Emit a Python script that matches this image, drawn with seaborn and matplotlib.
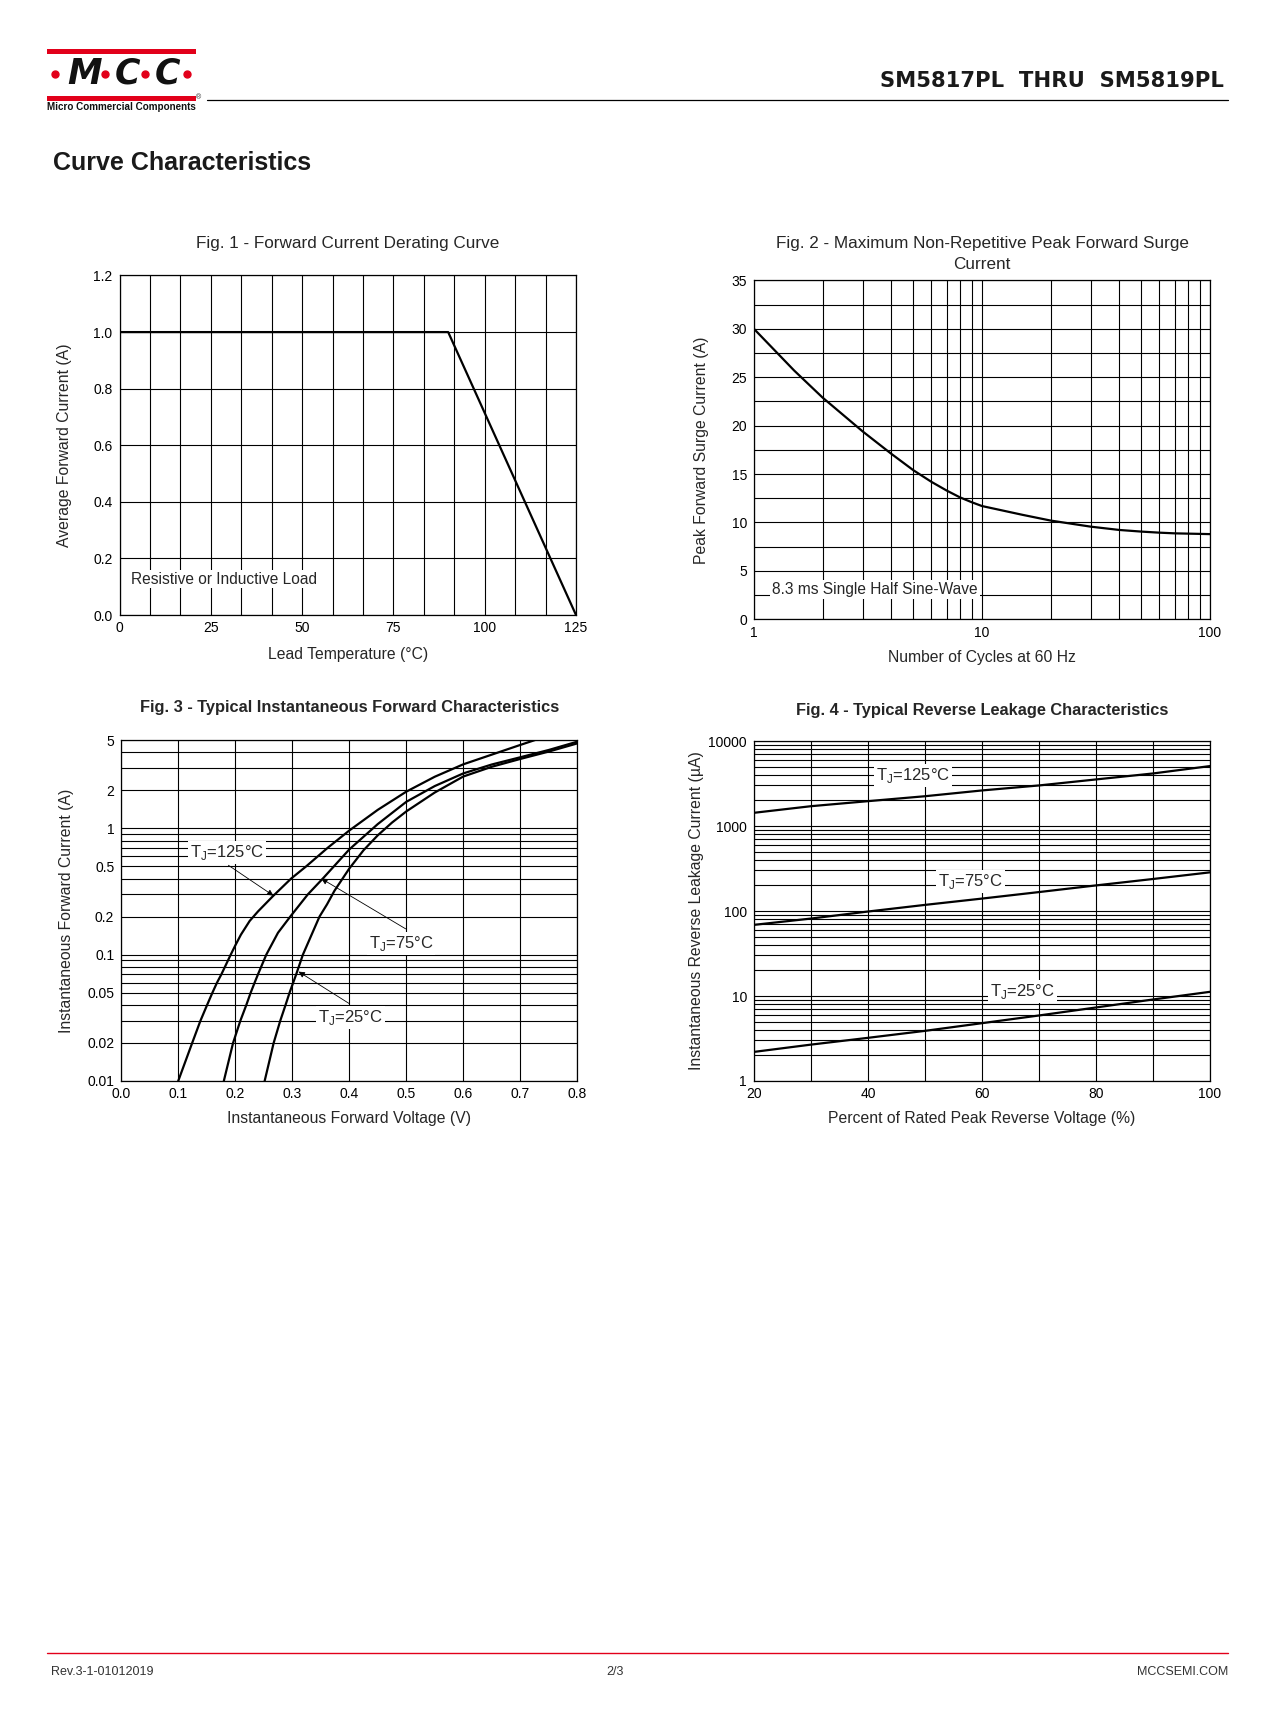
import numpy as np
import matplotlib
matplotlib.use("Agg")
import matplotlib.pyplot as plt
import seaborn as sns
from matplotlib.patches import Rectangle
from matplotlib.lines import Line2D
from matplotlib.ticker import NullFormatter

# Fig. 1 - derating curve
fig1_temp = [0, 90, 125]
fig1_current = [1.0, 1.0, 0.0]
fig1_xticks = [0, 25, 50, 75, 100, 125]
fig1_yticks = [0.0, 0.2, 0.4, 0.6, 0.8, 1.0, 1.2]
fig1_ylabels = ["0.0", "0.2", "0.4", "0.6", "0.8", "1.0", "1.2"]

# Fig. 2 - surge current
fig2_cycles = [1, 1.5, 2, 3, 4, 5, 6, 7, 8, 9, 10, 15, 20, 30, 40, 50, 60, 70, 100]
fig2_surge = [30.0, 25.7, 22.9, 19.4, 17.1, 15.4, 14.2, 13.3, 12.6, 12.1, 11.7,
              10.8, 10.2, 9.57, 9.23, 9.06, 8.95, 8.88, 8.8]
fig2_xticks = [1, 10, 100]
fig2_yticks = [0, 5, 10, 15, 20, 25, 30, 35]

# Fig. 3 - forward characteristics
vf_125 = [0.100, 0.1245, 0.139, 0.1507, 0.160, 0.168, 0.1758, 0.1921, 0.200,
          0.210, 0.2254, 0.240, 0.266, 0.298, 0.3245, 0.362, 0.40, 0.45, 0.50,
          0.55, 0.60, 0.65, 0.70, 0.726]
if_125 = [0.01, 0.02, 0.03, 0.04, 0.05, 0.06, 0.07, 0.10, 0.118,
          0.144, 0.185, 0.22, 0.29, 0.40, 0.50, 0.70, 0.96, 1.40, 1.95,
          2.56, 3.21, 3.83, 4.57, 5.0]
vf_75 = [0.180, 0.1962, 0.209, 0.2195, 0.2271, 0.234, 0.240, 0.2545, 0.275,
         0.2965, 0.3274, 0.3536, 0.40, 0.45, 0.50, 0.55, 0.60, 0.65, 0.70,
         0.75, 0.80]
if_75 = [0.01, 0.02, 0.03, 0.04, 0.05, 0.06, 0.07, 0.10, 0.149,
         0.20, 0.30, 0.40, 0.68, 1.08, 1.62, 2.16, 2.72, 3.2, 3.65,
         4.17, 4.85]
vf_25 = [0.2516, 0.2674, 0.279, 0.2883, 0.2953, 0.307, 0.3187, 0.3478, 0.361,
         0.374, 0.40, 0.425, 0.45, 0.475, 0.50, 0.55, 0.60, 0.65, 0.70, 0.75, 0.80]
if_25 = [0.01, 0.02, 0.03, 0.04, 0.05, 0.07, 0.10, 0.20, 0.25,
         0.32, 0.48, 0.67, 0.88, 1.11, 1.36, 1.92, 2.57, 3.07, 3.54, 4.05, 4.7]
fig3_xticks = [0.0, 0.1, 0.2, 0.3, 0.4, 0.5, 0.6, 0.7, 0.8]
fig3_xlabels = ["0.0", "0.1", "0.2", "0.3", "0.4", "0.5", "0.6", "0.7", "0.8"]
fig3_yticks = [0.01, 0.02, 0.05, 0.1, 0.2, 0.5, 1, 2, 5]
fig3_ylabels = ["0.01", "0.02", "0.05", "0.1", "0.2", "0.5", "1", "2", "5"]
fig3_ygrid = [0.03, 0.04, 0.06, 0.07, 0.08, 0.09, 0.3, 0.4, 0.6, 0.7, 0.8, 0.9, 3, 4]

# Fig. 4 - reverse leakage
fig4_pct = [20, 30, 40, 50, 60, 70, 80, 90, 100]
ir_125 = [1430, 1710, 1960, 2240, 2620, 3000, 3530, 4150, 5070]
ir_75 = [68.7, 81.5, 98.6, 118, 140, 167, 200, 238, 285]
ir_25 = [2.2, 2.68, 3.22, 3.89, 4.79, 5.9, 7.33, 9.1, 11.2]
fig4_xticks = [20, 40, 60, 80, 100]
fig4_yticks = [1, 10, 100, 1000, 10000]

TJ = "T$_{\\mathregular{J}}$="

W, H = 1276, 1719
RED = "#E2001A"

sns.set_style("white")
plt.rcParams["font.family"] = ["Liberation Sans", "DejaVu Sans"]
plt.rcParams["mathtext.fontset"] = "custom"
plt.rcParams["mathtext.rm"] = "Liberation Sans"

fig = plt.figure(figsize=(W / 100, H / 100), dpi=100)
fig.patch.set_facecolor("white")


def px_axes(l, t, r, b):
    return fig.add_axes([l / W, 1 - b / H, (r - l) / W, (b - t) / H])


def ftext(x, y, s, **kw):
    fig.text(x / W, 1 - y / H, s, **kw)


def style_axes(ax):
    for sp in ax.spines.values():
        sp.set_visible(True)
        sp.set_color("black")
        sp.set_linewidth(0.9)
    ax.grid(True, which="both", color="black", lw=0.8)
    ax.set_axisbelow(True)
    ax.tick_params(which="both", length=0, labelsize=10, colors="black")
    ax.tick_params(axis="x", pad=4.5)
    ax.tick_params(axis="y", pad=5)


def labels(ax, title, xlabel, ylabel, ty, xy, yx, bold=False):
    ax.set_title(title, y=ty, va="center", pad=0, fontsize=11.8 if bold else 12.3,
                 fontweight="bold" if bold else "normal", linespacing=1.45)
    ax.set_xlabel(xlabel, fontsize=11.3, va="center")
    ax.set_ylabel(ylabel, fontsize=11.3, va="center")
    ax.xaxis.set_label_coords(0.5, xy)
    ax.yaxis.set_label_coords(yx, 0.5)


box = dict(boxstyle="square,pad=0.12", fc="white", ec="none")
arrow = dict(arrowstyle="-|>", lw=0.6, color="black", mutation_scale=9,
             shrinkA=0, shrinkB=0)

# ---- Fig. 1
ax1 = px_axes(119.5, 275.5, 576, 615)
sns.lineplot(x=fig1_temp, y=fig1_current, ax=ax1, color="black", lw=1.6, errorbar=None)
ax1.set_xlim(0, 125)
ax1.set_ylim(0, 1.2)
ax1.set_xticks(fig1_xticks, labels=[str(v) for v in fig1_xticks])
ax1.set_xticks(np.linspace(0, 125, 16), minor=True)
ax1.set_yticks(fig1_yticks, labels=fig1_ylabels)
style_axes(ax1)
labels(ax1, "Fig. 1 - Forward Current Derating Curve", "Lead Temperature (°C)",
       "Average Forward Current (A)", 1.093, -0.116, -0.120)
ax1.text(3.2, 0.127, "Resistive or Inductive Load", fontsize=11.2, va="center",
         bbox=box, zorder=3)

# ---- Fig. 2
ax2 = px_axes(754, 280.5, 1210, 619.3)
ax2.set_xscale("log")
sns.lineplot(x=fig2_cycles, y=fig2_surge, ax=ax2, color="black", lw=1.6, errorbar=None)
ax2.set_xlim(1, 100)
ax2.set_ylim(0, 35)
ax2.set_xticks(fig2_xticks, labels=[str(v) for v in fig2_xticks])
ax2.set_xticks([m * d for d in (1, 10) for m in range(2, 10)], minor=True)
ax2.xaxis.set_minor_formatter(NullFormatter())
ax2.set_yticks(fig2_yticks, labels=[str(v) for v in fig2_yticks])
ax2.set_yticks(np.arange(2.5, 35, 5), minor=True)
style_axes(ax2)
labels(ax2, "Fig. 2 - Maximum Non-Repetitive Peak Forward Surge\nCurrent",
       "Number of Cycles at 60 Hz", "Peak Forward Surge Current (A)",
       1.078, -0.113, -0.115)
ax2.text(1.2, 3.1, "8.3 ms Single Half Sine-Wave", fontsize=11.2, va="center",
         bbox=box, zorder=3)

# ---- Fig. 3
ax3 = px_axes(121.2, 740, 577.3, 1081)
ax3.set_yscale("log")
for vf, i_f in [(vf_125, if_125), (vf_75, if_75), (vf_25, if_25)]:
    sns.lineplot(x=vf, y=i_f, ax=ax3, color="black", lw=1.6, errorbar=None)
ax3.set_xlim(0, 0.8)
ax3.set_ylim(0.01, 5)
ax3.set_xticks(fig3_xticks, labels=fig3_xlabels)
ax3.set_yticks(fig3_yticks, labels=fig3_ylabels)
ax3.set_yticks(fig3_ygrid, minor=True)
ax3.yaxis.set_minor_formatter(NullFormatter())
style_axes(ax3)
labels(ax3, "Fig. 3 - Typical Instantaneous Forward Characteristics",
       "Instantaneous Forward Voltage (V)", "Instantaneous Forward Current (A)",
       1.094, -0.111, -0.119, bold=True)
ax3.text(0.121, 0.645, TJ + "125°C", fontsize=12, va="center", bbox=box, zorder=3)
ax3.text(0.434, 0.122, TJ + "75°C", fontsize=12, va="center", bbox=box, zorder=3)
ax3.text(0.346, 0.032, TJ + "25°C", fontsize=12, va="center", bbox=box, zorder=3)
ax3.annotate("", xy=(0.267, 0.293), xytext=(0.188, 0.51), arrowprops=arrow)
ax3.annotate("", xy=(0.351, 0.40), xytext=(0.499, 0.16), arrowprops=arrow)
ax3.annotate("", xy=(0.311, 0.0734), xytext=(0.400, 0.041), arrowprops=arrow)

# ---- Fig. 4
ax4 = px_axes(754, 741, 1210, 1081)
ax4.set_yscale("log")
for ir in (ir_125, ir_75, ir_25):
    sns.lineplot(x=fig4_pct, y=ir, ax=ax4, color="black", lw=1.6, errorbar=None)
ax4.set_xlim(20, 100)
ax4.set_ylim(1, 10000)
ax4.set_xticks(fig4_xticks, labels=[str(v) for v in fig4_xticks])
ax4.set_xticks([30, 50, 70, 90], minor=True)
ax4.set_yticks(fig4_yticks, labels=[str(v) for v in fig4_yticks])
ax4.set_yticks([m * d for d in (1, 10, 100, 1000) for m in range(2, 10)], minor=True)
ax4.yaxis.set_minor_formatter(NullFormatter())
style_axes(ax4)
labels(ax4, "Fig. 4 - Typical Reverse Leakage Characteristics",
       "Percent of Rated Peak Reverse Voltage (%)",
       "Instantaneous Reverse Leakage Current (µA)",
       1.091, -0.111, -0.125, bold=True)
ax4.text(41.4, 3900, TJ + "125°C", fontsize=12, va="center", bbox=box, zorder=3)
ax4.text(52.3, 223, TJ + "75°C", fontsize=12, va="center", bbox=box, zorder=3)
ax4.text(61.4, 11.2, TJ + "25°C", fontsize=12, va="center", bbox=box, zorder=3)

# ---- page header
for top in (49, 96):
    fig.add_artist(Rectangle((47 / W, 1 - (top + 4.7) / H), 149 / W, 4.7 / H,
                             transform=fig.transFigure, color=RED, lw=0))
for x, ch in [(85, "M"), (128, "C"), (168, "C")]:
    ftext(x, 74, ch, fontsize=25, fontweight="bold", style="italic",
          family="DejaVu Sans", ha="center", va="center", color="#111111")
dots_x = np.array([55, 105, 145, 186.7])
fig.add_artist(Line2D(dots_x / W, [1 - 74.3 / H] * 4, transform=fig.transFigure,
                      marker="o", ms=5, color=RED, ls="none"))
ftext(47, 107.5, "Micro Commercial Components", fontsize=7.1, fontweight="bold",
      va="center", color="#111111")
ftext(199, 97.5, "®", fontsize=5, va="center", ha="center")
fig.add_artist(Line2D(np.array([206.7, 1228]) / W, [1 - 100.3 / H] * 2,
                      transform=fig.transFigure, color="black", lw=0.9))
ftext(1224, 81, "SM5817PL  THRU  SM5819PL", fontsize=15.2, fontweight="bold",
      family="DejaVu Sans", ha="right", va="center", color="#1a1a1a")
ftext(53.5, 163, "Curve Characteristics", fontsize=18, fontweight="bold",
      va="center", color="#1a1a1a")

# ---- page footer
fig.add_artist(Line2D(np.array([47, 1228]) / W, [1 - 1653 / H] * 2,
                      transform=fig.transFigure, color=RED, lw=1))
ftext(51.5, 1672, "Rev.3-1-01012019", fontsize=9, va="center", color="#333333")
ftext(615, 1672, "2/3", fontsize=9, va="center", ha="center", color="#333333")
ftext(1228, 1672, "MCCSEMI.COM", fontsize=9, va="center", ha="right", color="#333333")

fig.savefig("out.png", dpi=100, facecolor="white")
plt.close(fig)
